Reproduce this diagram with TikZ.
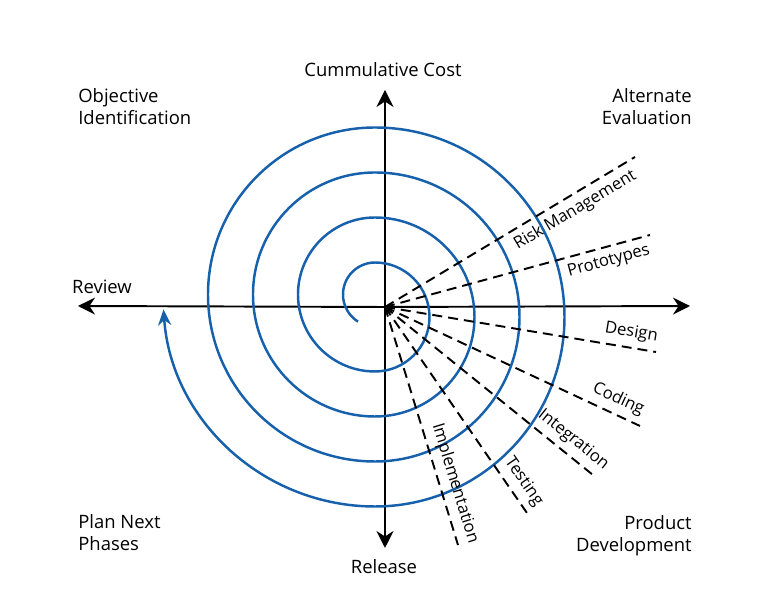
\documentclass[tikz,border=0pt]{standalone}
\usepackage{fontspec}
\setmainfont{Open Sans}
\usepackage{xcolor}
\usetikzlibrary{arrows.meta,positioning}

\definecolor{spiralblue}{RGB}{22,96,172}

\tikzset{
  axis/.style={line width=1.1pt,-{Stealth[length=0.34cm,width=0.34cm]}},
  spiral/.style={line width=1.4pt,spiralblue,-{Stealth[length=0.32cm,width=0.26cm]}},
  phase/.style={line width=1.1pt,dash pattern=on 0.2cm off 0.12cm},
  quadrant/.style={font=\fontsize{10.5}{12.5}\selectfont,inner sep=0pt},
  step label/.style={font=\fontsize{9.5}{11}\selectfont,sloped}
}

\begin{document}
\begin{tikzpicture}[x=0.02cm,y=0.02cm]
  \useasboundingbox (-385,-307) rectangle (383,307);
  % Axes
  \coordinate (O) at (0,0);
  \coordinate (east) at (305,1);
  \coordinate (west) at (-307,1);
  \coordinate (north) at (0,217);
  \coordinate (south) at (0,-241);
  \draw[axis] (O) -- (east);
  \draw[axis] (O) -- (west);
  \draw[axis] (O) -- (north);
  \draw[axis] (O) -- (south);
  % Quadrant and axis labels
  \node[quadrant] (cost) at (-2,237) {Cummulative Cost};
  \node[quadrant] (release) at (-1,-260) {Release};
  \node[quadrant] (review) at (-283,20) {Review};
  \node[quadrant,align=left,anchor=north west] (objective) at (-307,219) {Objective\\Identification};
  \node[quadrant,align=right,anchor=north east] (alternate) at (307,219) {Alternate\\Evaluation};
  \node[quadrant,align=left,anchor=north west] (plan) at (-307,-207) {Plan Next\\Phases};
  \node[quadrant,align=right,anchor=north east] (product) at (307,-208) {Product\\Development};
  % Spiral
  \draw[spiral] (-10,12.5) ++(238:32) arc[start angle=238,end angle=90,radius=32]
    arc[start angle=90,end angle=-90,radius=54.5]
    arc[start angle=270,end angle=90,radius=77]
    arc[start angle=90,end angle=-90,radius=99.5]
    arc[start angle=270,end angle=90,radius=122]
    arc[start angle=90,end angle=-90,radius=144.5]
    arc[start angle=270,end angle=90,radius=167]
    arc[start angle=90,end angle=-90,radius=189.5]
    arc[start angle=270,end angle=184,radius=212];
  % Phase lines
  \coordinate (risk) at (250,150);
  \coordinate (proto) at (265,72);
  \coordinate (design) at (271,-45);
  \coordinate (coding) at (255,-119);
  \coordinate (integ) at (208,-168);
  \coordinate (testing) at (142,-206);
  \coordinate (impl) at (73,-238);
  \draw[phase] (O) -- (risk) node[step label,pos=.73,below] {Risk Management};
  \draw[phase] (O) -- (proto) node[step label,pos=.83,below] {Prototypes};
  \draw[phase] (O) -- (design) node[step label,pos=.9,above] {Design};
  \draw[phase] (O) -- (coding) node[step label,pos=.89,above] {Coding};
  \draw[phase] (O) -- (integ) node[step label,pos=.86,above] {Integration};
  \draw[phase] (O) -- (testing) node[step label,pos=.89,above] {Testing};
  \draw[phase] (O) -- (impl) node[step label,pos=.76,above] {Implementation};
\end{tikzpicture}
\end{document}
